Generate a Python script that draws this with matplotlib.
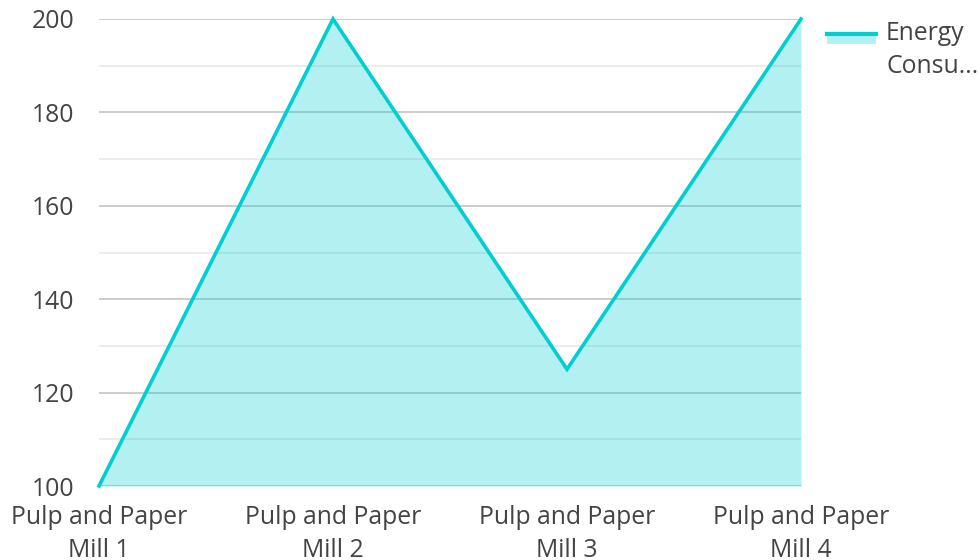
import matplotlib
matplotlib.use("Agg")
import matplotlib.pyplot as plt
from matplotlib.lines import Line2D
from matplotlib.patches import Rectangle
import numpy as np

plt.rcParams['font.family'] = ['Open Sans', 'DejaVu Sans']

categories = ["Pulp and Paper\nMill 1", "Pulp and Paper\nMill 2", "Pulp and Paper\nMill 3", "Pulp and Paper\nMill 4"]
values = [100, 200, 125, 200]
series_name = "Energy\nConsu..."
y_ticks = [100, 120, 140, 160, 180, 200]

line_color = "#00CED1"
text_color = "#444444"
fs = 17.8

W, H = 980, 560
fig = plt.figure(figsize=(W / 100, H / 100), dpi=100)
ax = fig.add_axes([99 / W, 1 - 486 / H, (801 - 99) / W, (486 - 19) / H])

x = np.arange(len(categories))
ax.fill_between(x, values, 100, color=line_color, alpha=0.3, linewidth=0, zorder=2)
ax.plot(x, values, color=line_color, linewidth=2.6, zorder=3, solid_joinstyle='miter', clip_on=False)

ax.set_xlim(0, len(categories) - 1)
ax.set_ylim(100, 200)
ax.set_yticks(y_ticks)
ax.set_yticks(np.arange(110, 200, 20), minor=True)
ax.set_xticks(x)
ax.set_xticklabels(categories)
ax.grid(True, which='major', axis='y', color='#c8c8c8', linewidth=1.3, zorder=1)
ax.grid(True, which='minor', axis='y', color='#ebebeb', linewidth=1.3, zorder=1)
ax.set_axisbelow(True)
for s in ax.spines.values():
    s.set_visible(False)
ax.tick_params(axis='both', which='both', length=0, labelsize=fs, colors=text_color)
ax.tick_params(axis='y', pad=18)
ax.tick_params(axis='x', pad=14)
for lbl in ax.get_xticklabels():
    lbl.set_linespacing(1.4)

# legend drawn in figure pixel coordinates
def fx(px):
    return px / W

def fy(py):
    return 1 - py / H

fig.patches.append(Rectangle((fx(827), fy(44)), fx(876) - fx(827), fy(33) - fy(44),
                             facecolor=line_color, alpha=0.3, edgecolor='none',
                             transform=fig.transFigure, figure=fig))
fig.lines.append(Line2D([fx(827), fx(876)], [fy(33.5), fy(33.5)], color=line_color, linewidth=3,
                        transform=fig.transFigure, figure=fig))
fig.text(fx(886), fy(21), series_name, fontsize=fs, color=text_color, ha='left', va='top',
         linespacing=1.4)

fig.savefig("out.png", dpi=100)
